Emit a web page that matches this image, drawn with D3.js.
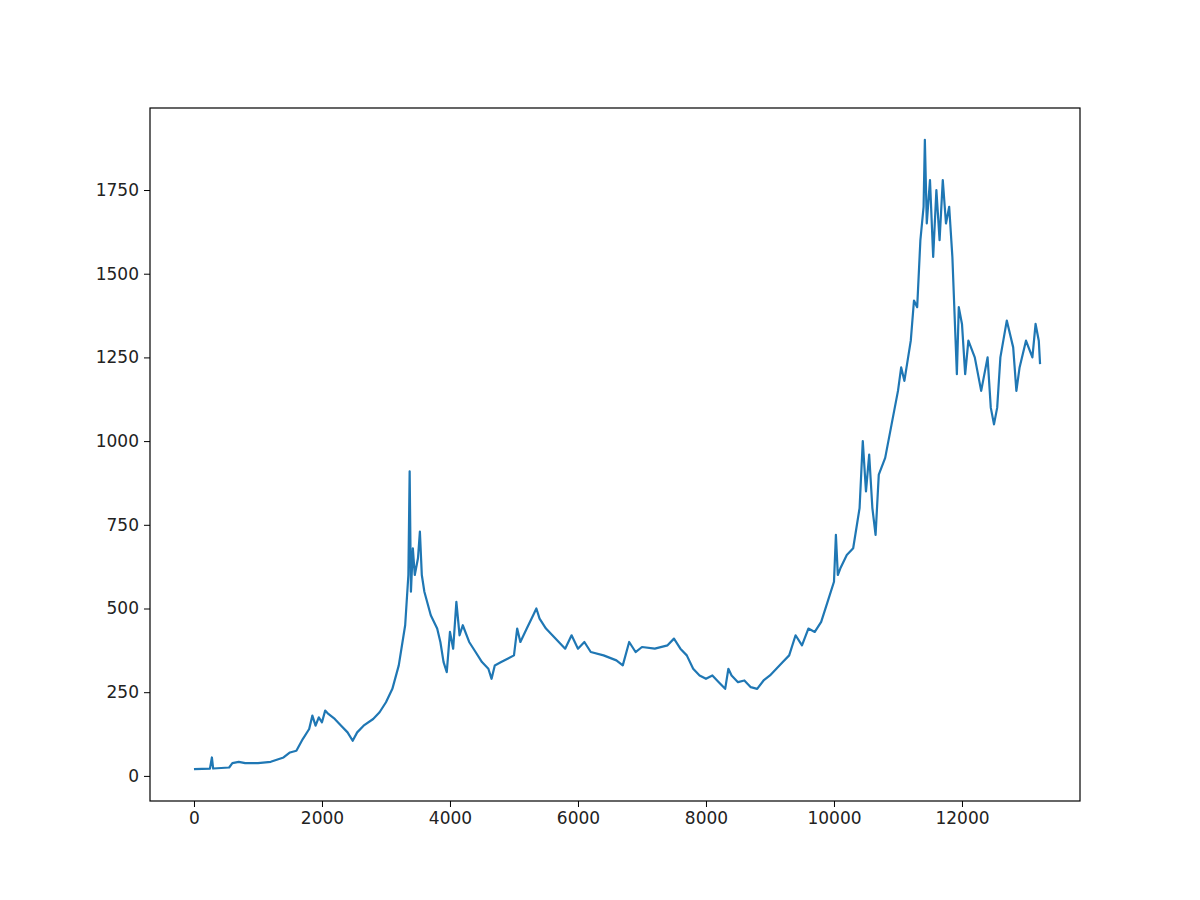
<!DOCTYPE html>
<html lang="en">
<head>
<meta charset="UTF-8">
<script src="https://d3js.org/d3.v7.min.js"></script>
<style>
  body { margin: 0; background: #fff; }
  .axis text { font-family: "DejaVu Sans", sans-serif; font-size: 17px; fill: #222; }
  .axis line, .axis path { stroke: #000; }
</style>
</head>
<body>
<div id="chart"></div>
<script>
// values (index, value)
const xIndex = [0,250,280,300,550,600,700,800,1000,1200,1400,1500,1600,1700,1800,1850,1900,1950,2000,2050,2100,2200,2300,2400,2480,2550,2650,2800,2900,3000,3100,3200,3300,3350,3370,3390,3420,3450,3500,3530,3560,3600,3700,3800,3850,3900,3950,4000,4050,4100,4150,4200,4300,4400,4500,4600,4650,4700,4800,4900,5000,5050,5100,5200,5300,5350,5400,5500,5600,5700,5800,5900,6000,6100,6200,6400,6600,6700,6800,6900,7000,7200,7400,7500,7600,7700,7800,7900,8000,8100,8200,8300,8350,8400,8500,8600,8700,8800,8900,9000,9100,9200,9300,9400,9500,9600,9700,9800,9900,10000,10030,10060,10100,10200,10300,10400,10450,10500,10550,10600,10650,10700,10800,10900,11000,11050,11100,11200,11250,11300,11350,11400,11420,11450,11500,11550,11600,11650,11700,11750,11800,11850,11900,11920,11950,12000,12050,12100,12200,12300,12400,12450,12500,12550,12600,12700,12800,12850,12900,13000,13100,13150,13200,13220];
const price = [20,22,55,22,25,38,42,38,38,42,55,70,75,110,140,180,150,175,160,195,185,170,150,130,105,130,150,170,190,220,260,330,450,600,910,550,680,600,650,730,600,550,480,440,400,340,310,430,380,520,420,450,400,370,340,320,290,330,340,350,360,440,400,440,480,500,470,440,420,400,380,420,380,400,370,360,345,330,400,370,385,380,390,410,380,360,320,300,290,300,280,260,320,300,280,285,265,260,285,300,320,340,360,420,390,440,430,460,520,580,720,600,620,660,680,800,1000,850,960,800,720,900,950,1050,1150,1220,1180,1300,1420,1400,1600,1700,1900,1650,1780,1550,1750,1600,1780,1650,1700,1550,1300,1200,1400,1350,1200,1300,1250,1150,1250,1100,1050,1100,1250,1360,1280,1150,1220,1300,1250,1350,1300,1230];
const xTicks = [0,2000,4000,6000,8000,10000,12000];
const yTicks = [0,250,500,750,1000,1250,1500,1750];

const svg = d3.select("#chart").append("svg").attr("width", 1200).attr("height", 900);
const margin = { left: 150, top: 108, right: 1080, bottom: 801 };

const x = d3.scaleLinear().domain([-687, 13844]).range([margin.left, margin.right]);
const y = d3.scaleLinear().domain([-75, 1995]).range([margin.bottom, margin.top]);

const data = xIndex.map((d, i) => ({ x: d, y: price[i] }));

svg.append("path")
  .datum(data)
  .attr("fill", "none")
  .attr("stroke", "#1f77b4")
  .attr("stroke-width", 2.2)
  .attr("stroke-linejoin", "round")
  .attr("d", d3.line().x(d => x(d.x)).y(d => y(d.y)));

svg.append("g").attr("class", "axis")
  .attr("transform", `translate(0,${margin.bottom})`)
  .call(d3.axisBottom(x).tickValues(xTicks).tickFormat(d3.format("d")).tickSize(6).tickPadding(5).tickSizeOuter(0))
  .call(g => g.select(".domain").remove());

svg.append("g").attr("class", "axis")
  .attr("transform", `translate(${margin.left},0)`)
  .call(d3.axisLeft(y).tickValues(yTicks).tickFormat(d3.format("d")).tickSize(6).tickPadding(5).tickSizeOuter(0))
  .call(g => g.select(".domain").remove());

svg.append("rect")
  .attr("x", margin.left).attr("y", margin.top)
  .attr("width", margin.right - margin.left).attr("height", margin.bottom - margin.top)
  .attr("fill", "none").attr("stroke", "#000").attr("stroke-width", 1.2);
</script>
</body>
</html>
